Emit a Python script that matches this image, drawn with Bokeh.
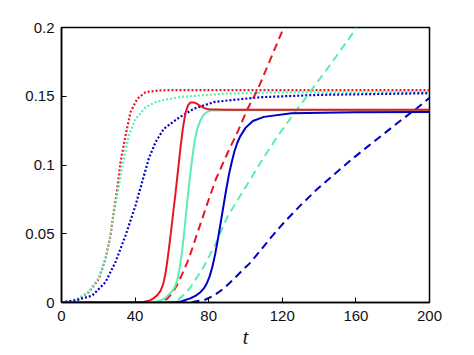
from bokeh.plotting import figure
from bokeh.models import Range1d, FixedTicker
from bokeh.embed import file_html
from bokeh.resources import INLINE

# ---- data ----
x_ticks = [0, 40, 80, 120, 160, 200]
y_ticks = [0, 0.05, 0.1, 0.15, 0.2]
y_tick_labels = ["0", "0.05", "0.1", "0.15", "0.2"]

# solid curves
red_solid_t = [0, 40, 45, 47.5, 50, 52, 53.8, 55.2, 56.5, 57.8, 59.2, 60.6, 62, 63.4, 64.7, 66, 67.4, 68.8, 70.1, 72, 74, 75.5, 78, 80, 90, 200]
red_solid_y = [0, 0, 0.0005, 0.0012, 0.003, 0.0052, 0.0085, 0.013, 0.021, 0.033, 0.048, 0.064, 0.080, 0.097, 0.113, 0.127, 0.138, 0.1435, 0.1455, 0.1455, 0.1442, 0.1428, 0.1412, 0.1405, 0.1402, 0.1402]

aqua_solid_t = [0, 45, 52, 55, 57, 60, 61.5, 62.9, 64.2, 65.6, 67, 68.3, 69.7, 71, 72.3, 73.7, 75.5, 77.3, 79, 81, 90, 200]
aqua_solid_y = [0, 0, 0.0008, 0.0022, 0.004, 0.008, 0.011, 0.016, 0.025, 0.038, 0.055, 0.073, 0.09, 0.1045, 0.117, 0.126, 0.1325, 0.1365, 0.1385, 0.1396, 0.1398, 0.1398]

blue_solid_t = [0, 60, 65, 70, 73, 75.5, 77.5, 79, 80.5, 82, 83.5, 85, 86.5, 88, 89.5, 91, 92.5, 94, 95.5, 97, 100, 104, 110, 125, 160, 200]
blue_solid_y = [0, 0, 0.0008, 0.003, 0.005, 0.0075, 0.0105, 0.014, 0.019, 0.026, 0.035, 0.046, 0.058, 0.07, 0.082, 0.093, 0.102, 0.11, 0.116, 0.1205, 0.127, 0.132, 0.135, 0.1377, 0.1384, 0.1386]

# dashed curves
red_dash_t = [0, 50, 55, 57.4, 60, 62.9, 65.5, 68.3, 71, 73.7, 76.5, 79, 84, 90, 96, 101, 104.3, 106.5, 112, 120.8]
red_dash_y = [0, 0, 0.001, 0.0027, 0.0065, 0.013, 0.0205, 0.029, 0.039, 0.05, 0.061, 0.071, 0.09, 0.108, 0.125, 0.1405, 0.149, 0.1545, 0.172, 0.2]

aqua_dash_t = [0, 55, 60, 62.9, 66, 70.1, 73, 77.3, 80, 84.6, 90, 95.5, 101, 110, 118, 128, 135.3, 145, 160.5]
aqua_dash_y = [0, 0, 0.0006, 0.0015, 0.005, 0.011, 0.017, 0.026, 0.033, 0.045, 0.062, 0.074, 0.086, 0.1057, 0.122, 0.1405, 0.1535, 0.171, 0.2]

blue_dash_t = [0, 65, 72, 78, 82.8, 88, 93.6, 98, 102.7, 108.2, 114, 120.8, 130, 139, 148, 157, 166, 175.2, 184, 193.3, 200]
blue_dash_y = [0, 0, 0.0005, 0.002, 0.005, 0.01, 0.017, 0.023, 0.029, 0.038, 0.0475, 0.058, 0.0708, 0.0825, 0.093, 0.1033, 0.113, 0.1227, 0.132, 0.1415, 0.1489]

# dotted curves
red_dot_t = [0, 4, 9.4, 14.8, 20.3, 23.9, 26.6, 28.4, 30.3, 32.1, 34.8, 37.5, 41.1, 45.7, 52.9, 60, 80, 200]
red_dot_y = [0, 0.0008, 0.0027, 0.0075, 0.0172, 0.0318, 0.0487, 0.0657, 0.0827, 0.102, 0.1215, 0.1384, 0.148, 0.153, 0.1542, 0.1545, 0.1545, 0.1545]

aqua_dot_t = [0, 4, 9.4, 14.8, 20.3, 23.9, 25.7, 27.5, 31.2, 33.9, 36.6, 40.2, 45.7, 51.1, 56.5, 64.7, 88, 120, 200]
aqua_dot_y = [0, 0.0009, 0.003, 0.008, 0.018, 0.032, 0.042, 0.058, 0.085, 0.1045, 0.1215, 0.1336, 0.142, 0.1457, 0.1475, 0.1495, 0.1518, 0.1528, 0.153]

blue_dot_t = [0, 7.6, 16.7, 23.9, 29.3, 34.8, 40.2, 43.8, 47.4, 51.1, 55.6, 62.9, 71.9, 82.8, 90, 108, 140, 200]
blue_dot_y = [0, 0.0015, 0.005, 0.0148, 0.0293, 0.0487, 0.0705, 0.0875, 0.1045, 0.1166, 0.1263, 0.1336, 0.1409, 0.1457, 0.1469, 0.1493, 0.151, 0.1522]

RED = "#e61722"
AQUA = "#5cedb0"
BLUE = "#0000c4"

p = figure(width=474, height=355, output_backend="svg", toolbar_location=None,
           x_range=Range1d(0, 200), y_range=Range1d(0, 0.2),
           min_border_left=61, min_border_right=45, min_border_top=27, min_border_bottom=53)
p.background_fill_color = "white"
p.border_fill_color = "white"
p.outline_line_color = "black"
p.outline_line_width = 1.5
p.grid.visible = False

# dotted
p.line(red_dot_t, red_dot_y, line_color=RED, line_width=2.2, line_dash="2 2")
p.line(aqua_dot_t, aqua_dot_y, line_color=AQUA, line_width=2.2, line_dash="2 2")
p.line(blue_dot_t, blue_dot_y, line_color=BLUE, line_width=2.2, line_dash="2 2")
# dashed
p.line(red_dash_t, red_dash_y, line_color=RED, line_width=2, line_dash="8 5")
p.line(aqua_dash_t, aqua_dash_y, line_color=AQUA, line_width=2, line_dash="8 5")
p.line(blue_dash_t, blue_dash_y, line_color=BLUE, line_width=2, line_dash="8 5")
# solid
p.line(aqua_solid_t, aqua_solid_y, line_color=AQUA, line_width=2)
p.line(red_solid_t, red_solid_y, line_color=RED, line_width=2)
p.line(blue_solid_t, blue_solid_y, line_color=BLUE, line_width=2)

for ax in (p.xaxis[0], p.yaxis[0]):
    ax.axis_line_color = "black"
    ax.axis_line_width = 1.5
    ax.major_tick_line_color = "black"
    ax.major_tick_line_width = 1
    ax.major_tick_in = 5
    ax.major_tick_out = 0
    ax.minor_tick_line_color = None
    ax.major_label_text_font = "Liberation Sans"
    ax.major_label_text_font_size = "15px"
    ax.major_label_text_color = "#111111"

p.xaxis.ticker = FixedTicker(ticks=x_ticks)
p.yaxis.ticker = FixedTicker(ticks=y_ticks)
p.yaxis.major_label_overrides = {v: s for v, s in zip(y_ticks, y_tick_labels)}
p.xaxis.major_label_standoff = 8
p.yaxis.major_label_standoff = 7

p.xaxis.axis_label = "t"
p.xaxis.axis_label_text_font = "Liberation Serif"
p.xaxis.axis_label_text_font_style = "italic"
p.xaxis.axis_label_text_font_size = "20px"
p.xaxis.axis_label_text_color = "#111111"
p.xaxis.axis_label_standoff = 2

open("out.html", "w").write(file_html(p, INLINE))
